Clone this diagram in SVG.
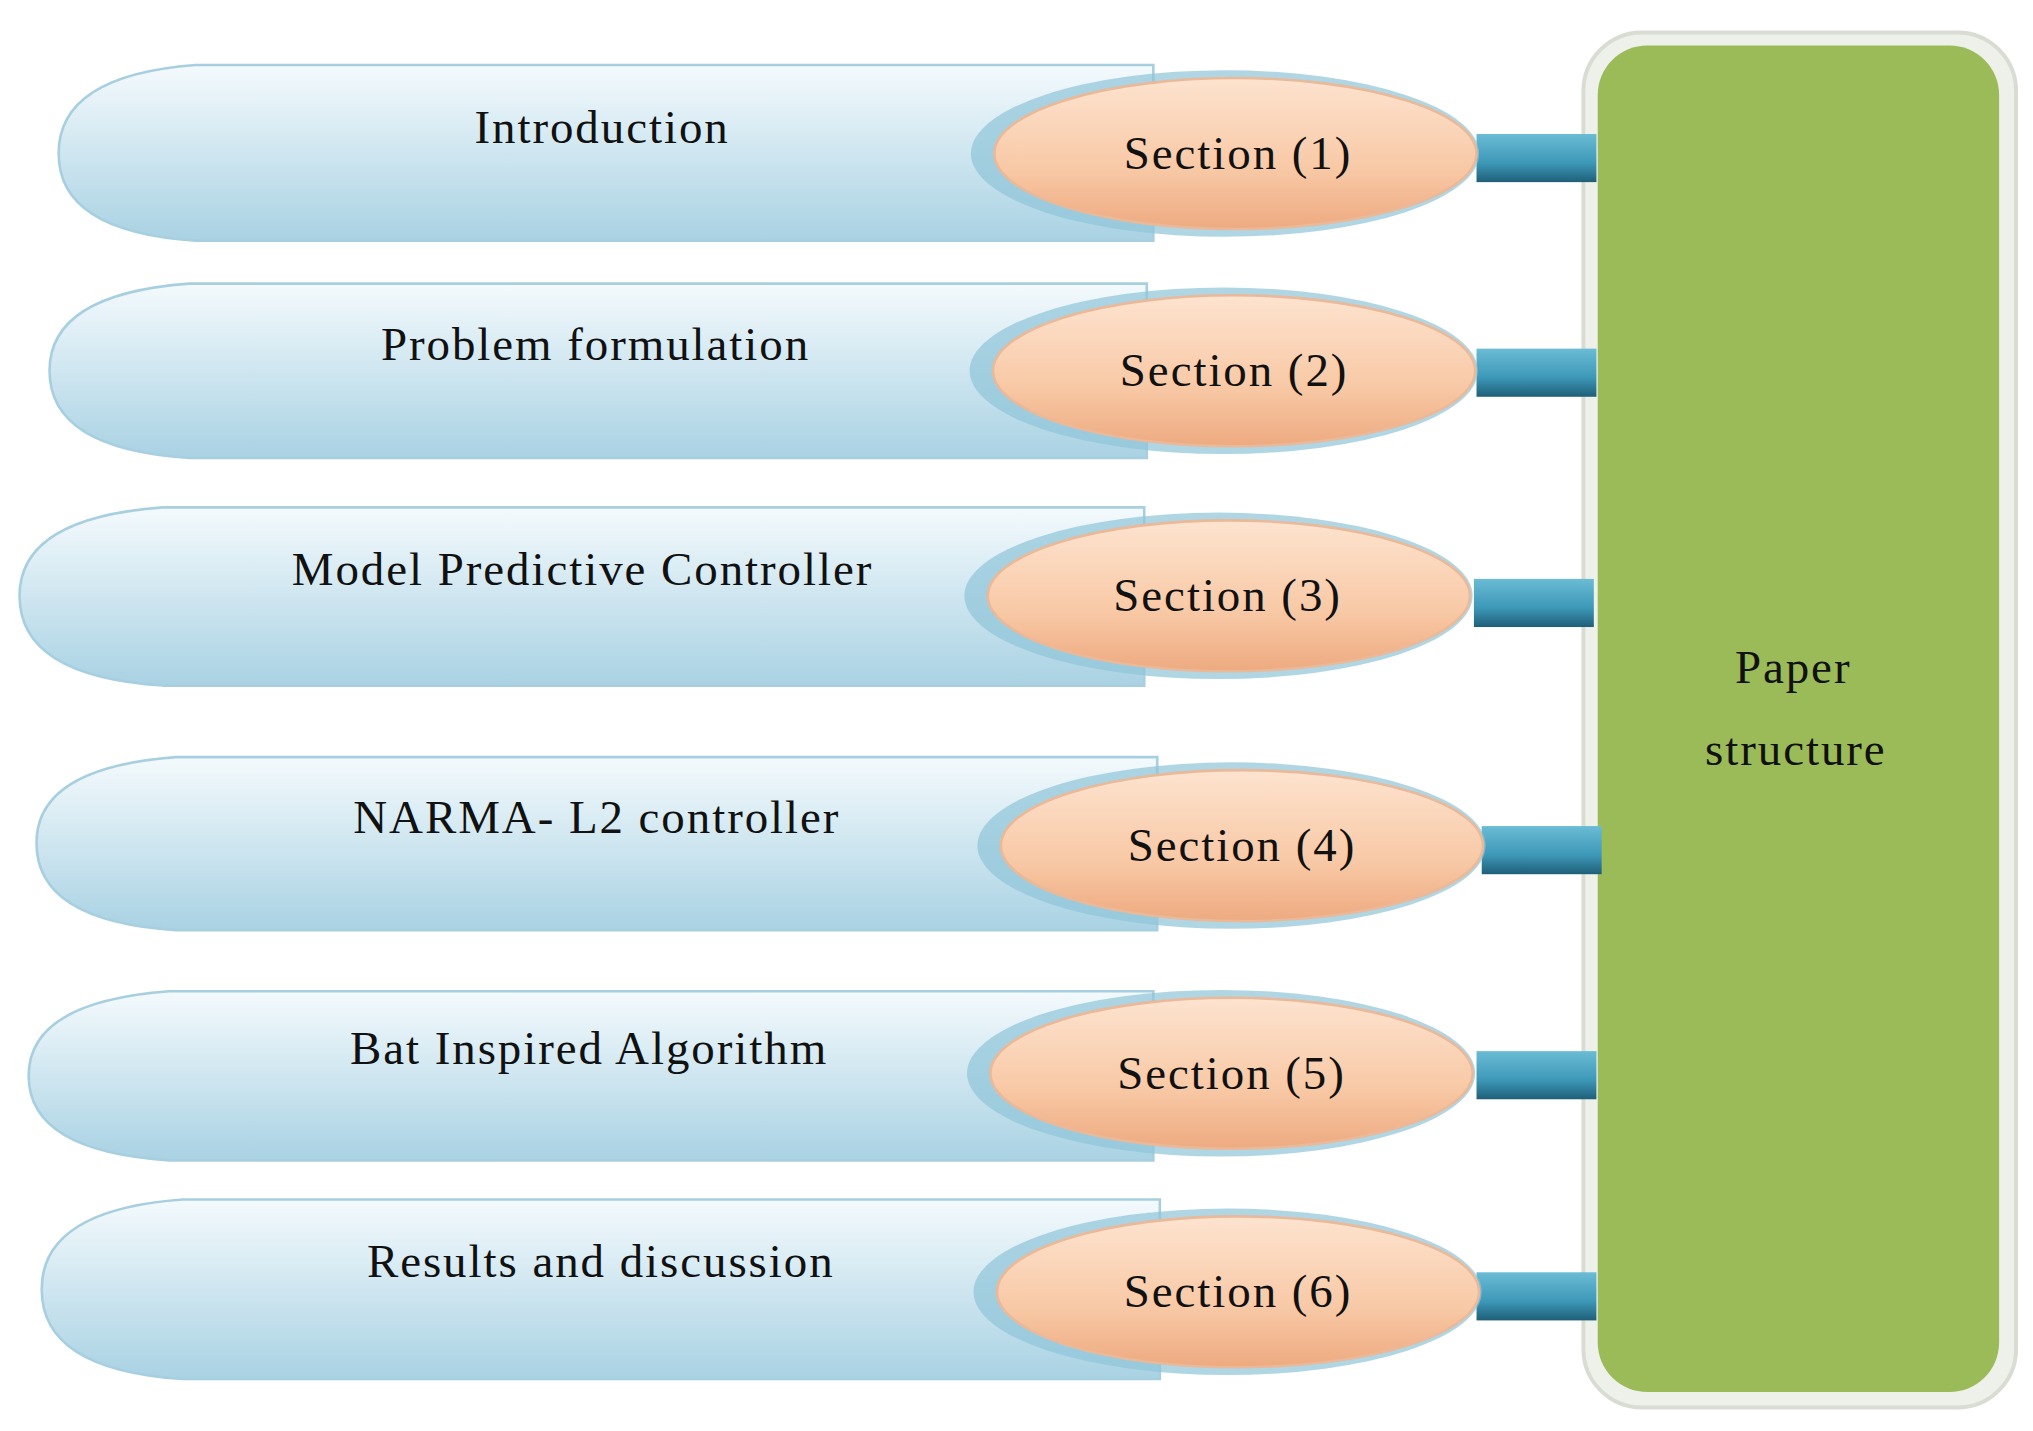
<svg xmlns="http://www.w3.org/2000/svg" width="2033" height="1431" viewBox="0 0 2033 1431">
<defs>
<linearGradient id="bl" x1="0" y1="0" x2="0" y2="1"><stop offset="0" stop-color="#f4fafd"/><stop offset="0.5" stop-color="#cfe6f0"/><stop offset="1" stop-color="#a9d2e3"/></linearGradient>
<linearGradient id="or" x1="0" y1="0" x2="0" y2="1"><stop offset="0" stop-color="#fde3cf"/><stop offset="0.6" stop-color="#f8c9a6"/><stop offset="1" stop-color="#eeaa80"/></linearGradient>
<linearGradient id="cn" x1="0" y1="0" x2="0" y2="1"><stop offset="0" stop-color="#6bbcd4"/><stop offset="0.6" stop-color="#3d98b8"/><stop offset="1" stop-color="#1f5f78"/></linearGradient>
<style>
.ban{fill:url(#bl);stroke:#a8cfe0;stroke-width:2}
.sh{fill:#8fc4d8;opacity:0.7}
.ov{fill:url(#or);stroke:#e9b999;stroke-width:2}
.cn{fill:url(#cn)}
text{font-family:"Liberation Serif","DejaVu Serif",serif;font-size:36px;letter-spacing:1.5px;fill:#111;text-anchor:middle}
</style>
</defs>
<rect width="2033" height="1431" fill="#fff"/>
<g transform="scale(1.3032,1.3009)">
<g id="paper">
<rect x="1215" y="25" width="332" height="1057" rx="45" fill="#eef0ea" stroke="#d8dcd2" stroke-width="3"/>
<rect x="1226" y="35" width="308" height="1035" rx="38" fill="#9bbb59"/>
<text x="1376" y="525">Paper</text>
<text x="1378" y="588">structure</text>
</g>
<g id="connectors">
<rect class="cn" x="1133" y="103" width="92" height="37"/>
<rect class="cn" x="1133" y="268" width="92" height="37"/>
<rect class="cn" x="1131" y="445" width="92" height="37"/>
<rect class="cn" x="1137" y="635" width="92" height="37"/>
<rect class="cn" x="1133" y="808" width="92" height="37"/>
<rect class="cn" x="1133" y="978" width="92" height="37"/>
</g>
<g id="row1"><path class="ban" d="M885,50 L150,50 Q45,58 45,118 Q45,178 150,185 L885,185 Z"/><ellipse class="sh" cx="940" cy="118" rx="195" ry="64"/><ellipse class="ov" cx="948" cy="118" rx="185" ry="58"/><text x="462" y="110">Introduction</text><text x="950" y="130">Section (1)</text></g>
<g id="row2"><path class="ban" d="M880,218 L145,218 Q38,226 38,285 Q38,345 145,352 L880,352 Z"/><ellipse class="sh" cx="939" cy="285" rx="195" ry="64"/><ellipse class="ov" cx="947" cy="285" rx="185" ry="58"/><text x="457" y="277">Problem formulation</text><text x="947" y="297">Section (2)</text></g>
<g id="row3"><path class="ban" d="M878,390 L125,390 Q15,398 15,458 Q15,520 125,527 L878,527 Z"/><ellipse class="sh" cx="935" cy="458" rx="195" ry="64"/><ellipse class="ov" cx="943" cy="458" rx="185" ry="58"/><text x="447" y="450">Model Predictive Controller</text><text x="942" y="470">Section (3)</text></g>
<g id="row4"><path class="ban" d="M888,582 L135,582 Q28,590 28,648 Q28,708 135,715 L888,715 Z"/><ellipse class="sh" cx="945" cy="650" rx="195" ry="64"/><ellipse class="ov" cx="953" cy="650" rx="185" ry="58"/><text x="458" y="640">NARMA- L2 controller</text><text x="953" y="662">Section (4)</text></g>
<g id="row5"><path class="ban" d="M885,762 L130,762 Q22,770 22,827 Q22,885 130,892 L885,892 Z"/><ellipse class="sh" cx="937" cy="825" rx="195" ry="64"/><ellipse class="ov" cx="945" cy="825" rx="185" ry="58"/><text x="452" y="818">Bat Inspired Algorithm</text><text x="945" y="837">Section (5)</text></g>
<g id="row6"><path class="ban" d="M890,922 L140,922 Q32,930 32,991 Q32,1053 140,1060 L890,1060 Z"/><ellipse class="sh" cx="942" cy="993" rx="195" ry="64"/><ellipse class="ov" cx="950" cy="993" rx="185" ry="58"/><text x="461" y="982">Results and discussion</text><text x="950" y="1005">Section (6)</text></g>
</g>
</svg>
